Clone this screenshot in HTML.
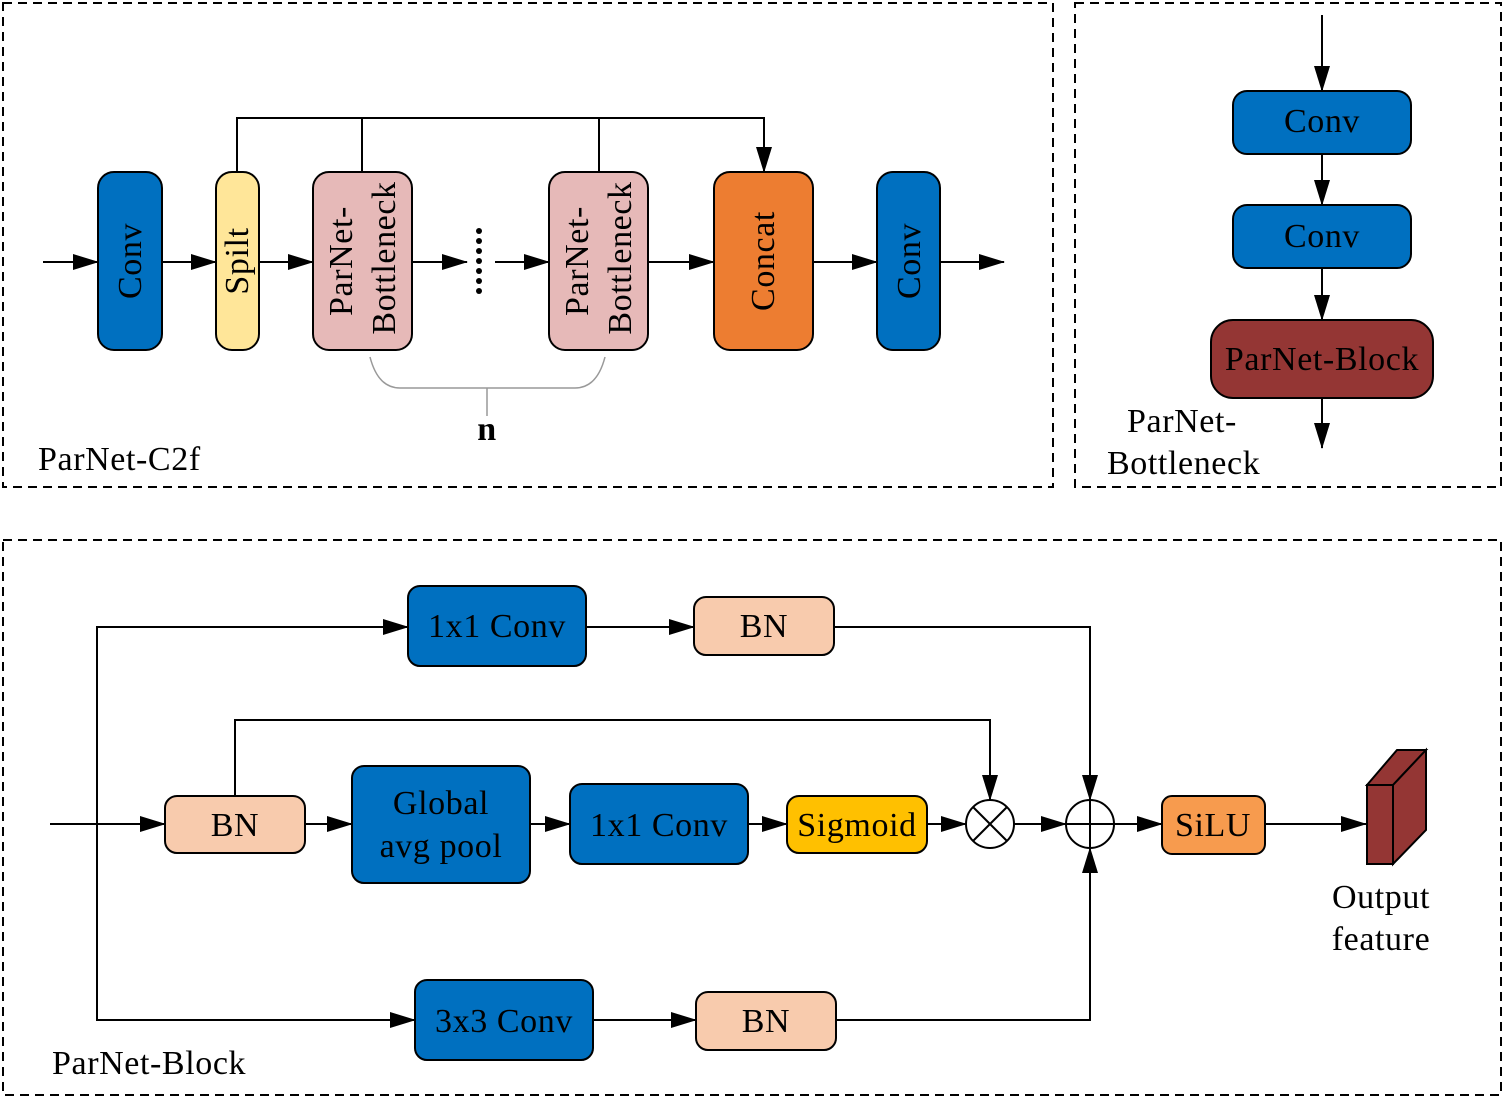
<!DOCTYPE html>
<html><head><meta charset="utf-8"><style>
html,body{margin:0;padding:0;background:#fff}
svg{display:block}
text{font-family:"Liberation Serif",serif;fill:#000}
</style></head><body>
<svg width="1508" height="1099" viewBox="0 0 1508 1099" xmlns="http://www.w3.org/2000/svg">
<defs>
<marker id="a" markerWidth="26" markerHeight="16" refX="25" refY="8" orient="auto" markerUnits="userSpaceOnUse">
<path d="M0,0 L26,8 L0,16 Z" fill="#000"/></marker>
</defs>
<g fill="none" stroke="#000" stroke-width="2" stroke-dasharray="9,6">
<rect x="3" y="3" width="1050" height="484"/>
<rect x="1075" y="3" width="426" height="484"/>
<rect x="3" y="540" width="1498" height="555"/>
</g>
<g stroke="#000" stroke-width="2" fill="none">
<line x1="43" y1="262" x2="98" y2="262" marker-end="url(#a)"/>
<line x1="162" y1="262" x2="216" y2="262" marker-end="url(#a)"/>
<line x1="259" y1="262" x2="313" y2="262" marker-end="url(#a)"/>
<line x1="412" y1="262" x2="467" y2="262" marker-end="url(#a)"/>
<line x1="495" y1="262" x2="549" y2="262" marker-end="url(#a)"/>
<line x1="648" y1="262" x2="714" y2="262" marker-end="url(#a)"/>
<line x1="813" y1="262" x2="877" y2="262" marker-end="url(#a)"/>
<line x1="940" y1="262" x2="1004" y2="262" marker-end="url(#a)"/>
<polyline points="237,172 237,118 764,118 764,172" marker-end="url(#a)"/>
<line x1="362" y1="118" x2="362" y2="172"/>
<line x1="599" y1="118" x2="599" y2="172"/>
<line x1="1322" y1="15" x2="1322" y2="91" marker-end="url(#a)"/>
<line x1="1322" y1="154" x2="1322" y2="205" marker-end="url(#a)"/>
<line x1="1322" y1="268" x2="1322" y2="320" marker-end="url(#a)"/>
<line x1="1322" y1="398" x2="1322" y2="448" marker-end="url(#a)"/>
<polyline points="408,627 97,627 97,1020 415,1020" marker-end="url(#a)"/>
<line x1="97" y1="627" x2="408" y2="627" marker-end="url(#a)"/>
<line x1="586" y1="627" x2="694" y2="627" marker-end="url(#a)"/>
<polyline points="834,627 1090,627 1090,800" marker-end="url(#a)"/>
<line x1="593" y1="1020" x2="696" y2="1020" marker-end="url(#a)"/>
<polyline points="836,1020 1090,1020 1090,848" marker-end="url(#a)"/>
<line x1="50" y1="824" x2="165" y2="824" marker-end="url(#a)"/>
<line x1="305" y1="824" x2="352" y2="824" marker-end="url(#a)"/>
<line x1="530" y1="824" x2="570" y2="824" marker-end="url(#a)"/>
<line x1="748" y1="824" x2="787" y2="824" marker-end="url(#a)"/>
<line x1="927" y1="824" x2="966" y2="824" marker-end="url(#a)"/>
<line x1="1014" y1="824" x2="1066" y2="824" marker-end="url(#a)"/>
<line x1="1114" y1="824" x2="1162" y2="824" marker-end="url(#a)"/>
<line x1="1265" y1="824" x2="1366" y2="824" marker-end="url(#a)"/>
<polyline points="235,796 235,720 990,720 990,800" marker-end="url(#a)"/>
</g>
<path d="M370,357 Q378,388 400,388 L575,388 Q597,388 605,357 M487,388 L487,416" stroke="#999" stroke-width="1.5" fill="none"/>
<g fill="#000"><circle cx="479" cy="231" r="3"/><circle cx="479" cy="241" r="3"/><circle cx="479" cy="251" r="3"/><circle cx="479" cy="261" r="3"/><circle cx="479" cy="271" r="3"/><circle cx="479" cy="281" r="3"/><circle cx="479" cy="291" r="3"/></g>
<g stroke="#000" stroke-width="2">
<rect x="98" y="172" width="64" height="178" rx="16" fill="#0070C0"/>
<rect x="216" y="172" width="43" height="178" rx="16" fill="#FFE699"/>
<rect x="313" y="172" width="99" height="178" rx="16" fill="#E6B9B8"/>
<rect x="549" y="172" width="99" height="178" rx="16" fill="#E6B9B8"/>
<rect x="714" y="172" width="99" height="178" rx="16" fill="#ED7D31"/>
<rect x="877" y="172" width="63" height="178" rx="16" fill="#0070C0"/>
<rect x="1233" y="91" width="178" height="63" rx="14" fill="#0070C0"/>
<rect x="1233" y="205" width="178" height="63" rx="14" fill="#0070C0"/>
<rect x="1211" y="320" width="222" height="78" rx="22" fill="#943634"/>
<rect x="408" y="586" width="178" height="80" rx="12" fill="#0070C0"/>
<rect x="694" y="597" width="140" height="58" rx="12" fill="#F8CBAD"/>
<rect x="165" y="796" width="140" height="57" rx="12" fill="#F8CBAD"/>
<rect x="352" y="766" width="178" height="117" rx="12" fill="#0070C0"/>
<rect x="570" y="784" width="178" height="80" rx="12" fill="#0070C0"/>
<rect x="787" y="796" width="140" height="57" rx="12" fill="#FFC000"/>
<rect x="1162" y="796" width="103" height="58" rx="10" fill="#F79B4E"/>
<rect x="415" y="980" width="178" height="80" rx="12" fill="#0070C0"/>
<rect x="696" y="992" width="140" height="58" rx="12" fill="#F8CBAD"/>
<circle cx="990" cy="824" r="24" fill="#fff"/>
<line x1="973" y1="807" x2="1007" y2="841"/><line x1="1007" y1="807" x2="973" y2="841"/>
<circle cx="1090" cy="824" r="24" fill="#fff"/>
<line x1="1066" y1="824" x2="1114" y2="824"/><line x1="1090" y1="800" x2="1090" y2="848"/>
<polygon points="1367,785 1397,750 1426,750 1393,785" fill="#943634"/>
<polygon points="1393,785 1426,750 1426,830 1393,864" fill="#943634"/>
<rect x="1367" y="785" width="26" height="79" fill="#943634"/>
</g>
<g font-size="34" text-anchor="middle" letter-spacing="0.6">
<text transform="translate(141,261) rotate(-90)">Conv</text>
<text transform="translate(248,261) rotate(-90)">Spilt</text>
<text transform="translate(352,261) rotate(-90)">ParNet-</text>
<text transform="translate(395,258) rotate(-90)">Bottleneck</text>
<text transform="translate(588,261) rotate(-90)">ParNet-</text>
<text transform="translate(631,258) rotate(-90)">Bottleneck</text>
<text transform="translate(774,261) rotate(-90)">Concat</text>
<text transform="translate(920,261) rotate(-90)">Conv</text>
<text x="1322" y="132">Conv</text>
<text x="1322" y="247">Conv</text>
<text x="1322" y="370">ParNet-Block</text>
<text x="497" y="637">1x1 Conv</text>
<text x="764" y="637">BN</text>
<text x="235" y="836">BN</text>
<text x="441" y="814">Global</text>
<text x="441" y="857">avg pool</text>
<text x="659" y="836">1x1 Conv</text>
<text x="857" y="836">Sigmoid</text>
<text x="1213" y="836">SiLU</text>
<text x="504" y="1032">3x3 Conv</text>
<text x="766" y="1032">BN</text>
<text x="1381" y="908">Output</text>
<text x="1381" y="950">feature</text>
<text x="487" y="440" font-weight="bold">n</text>
</g>
<g font-size="34" letter-spacing="0.6">
<text x="38" y="470">ParNet-C2f</text>
<text x="1127" y="432">ParNet-</text>
<text x="1107" y="474">Bottleneck</text>
<text x="52" y="1074">ParNet-Block</text>
</g>
</svg>
</body></html>
